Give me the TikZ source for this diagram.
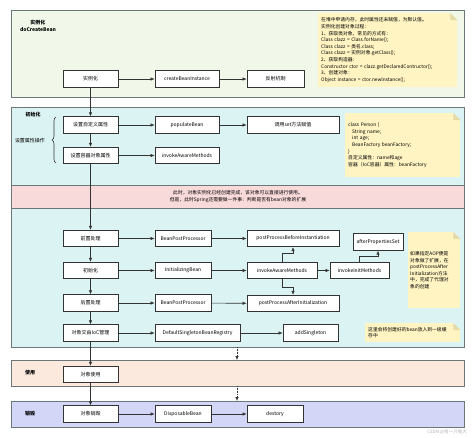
\documentclass[tikz,border=0pt]{standalone}
\usepackage{fontspec}
\setmainfont{Noto Sans CJK SC}
\usetikzlibrary{arrows.meta,decorations.pathreplacing}

\definecolor{instbg}{HTML}{F1F8E9}
\definecolor{initbg}{HTML}{DCF3F3}
\definecolor{bandbg}{HTML}{F9DADA}
\definecolor{usebg}{HTML}{FBE9DD}
\definecolor{desbg}{HTML}{D3D6F6}
\definecolor{notebg}{HTML}{FFF4C2}
\definecolor{foldc}{HTML}{E6DBA6}
\definecolor{secline}{HTML}{6B7778}
\definecolor{boxline}{HTML}{333333}

\tikzset{
  sect/.style={draw=secline, line width=1pt, minimum width=453pt, outer sep=0pt},
  title/.style={font=\fontsize{5}{6.5}\selectfont\bfseries, align=center},
  stepbox/.style={draw=boxline, line width=0.7pt, fill=white, minimum height=16.5pt,
    inner sep=1pt, font=\fontsize{5}{6}\selectfont},
  memo/.style={fill=notebg, align=left, inner sep=3pt, anchor=north west,
    font=\fontsize{4.8}{6.6}\selectfont},
  flow/.style={draw=boxline, line width=0.6pt, -{Latex[length=4pt,width=3.4pt]}}
}
% folded corner of a note: #1 node, #2 colour behind it
\newcommand\dogear[2]{
  \fill[#2] (#1.north east) -- ++(-7,0) -- ++(7,7) -- cycle;
  \fill[foldc] (#1.north east) ++(-7,0) -- ++(0,7) -- ++(7,0) -- cycle;
}

\begin{document}
\begin{tikzpicture}[x=1pt,y=-1pt]
  \useasboundingbox (0,0) rectangle (474,437);

  % stages
  \node[sect, fill=instbg, minimum height=87pt]  (sInst) at (237.5,53.5) {};
  \node[sect, fill=initbg, minimum height=78pt]  (sInit) at (237.5,146) {};
  \node[sect, fill=bandbg, minimum height=23pt]  (sBand) at (237.5,196.5) {};
  \node[sect, fill=initbg, minimum height=139pt] (sPost) at (237.5,277.5) {};
  \node[sect, fill=usebg, minimum height=26pt]   (sUse)  at (237.5,373) {};
  \node[sect, fill=desbg, minimum height=26pt]   (sDes)  at (237.5,414) {};

  \node[title] (tInst) at (38,26) {实例化\\doCreateBean};
  \node[title] (tInit) at (33,115) {初始化};
  \node[title] (tUse)  at (30,373) {使用};
  \node[title] (tDes)  at (30,414) {销毁};
  \node[font=\fontsize{4.8}{6.6}\selectfont, align=center] (bandtxt) at (238,196.5)
    {此时，对象实例化已经创建完成，该对象可以直接进行使用。\\
     但是，此时Spring还需要做一件事：判断是否有bean对象的扩展};

  % instantiation
  \node[stepbox, minimum width=55pt] (inst)   at (90.5,79) {实例化};
  \node[stepbox, minimum width=64pt] (cbi)    at (187,79) {createBeanInstance};
  \node[stepbox, minimum width=57pt] (refl)   at (275.5,79) {反射机制};

  % properties
  \node[stepbox, minimum width=55pt] (setA)   at (90.5,125) {设置自定义属性};
  \node[stepbox, minimum width=64pt] (popB)   at (187,125) {populateBean};
  \node[stepbox, minimum width=92pt] (setter) at (293,125) {调用set方法赋值};
  \node[stepbox, minimum width=55pt] (setB)   at (90.5,155.5) {设置容器对象属性};
  \node[stepbox, minimum width=64pt] (iamA)   at (187,155.5) {invokeAwareMethods};
  \coordinate (brA) at (56,163);
  \coordinate (brB) at (56,117);
  \draw[boxline, line width=0.6pt, decorate, decoration={brace, amplitude=4pt}] (brA) -- (brB);
  \node[font=\fontsize{5}{6}\selectfont] (brtxt) at (30,140.5) {设置属性操作};

  % extension
  \node[stepbox, minimum width=55pt] (pre)  at (90.5,238.5) {前置处理};
  \node[stepbox, minimum width=56pt] (bppA) at (183,238.5) {BeanPostProcessor};
  \node[stepbox, minimum width=92pt] (ppbi) at (293,238.5) {postProcessBeforeInstantiation};
  \node[stepbox, minimum width=55pt] (init) at (90.5,270.5) {初始化};
  \node[stepbox, minimum width=56pt] (ib)   at (183,270.5) {InitializingBean};
  \node[stepbox, minimum width=70pt] (iamB) at (282,270.5) {invokeAwareMethods};
  \node[stepbox, minimum width=59pt] (iim)  at (359.5,270.5) {invokeInitMethods};
  \node[stepbox, minimum width=50pt] (aps)  at (378,242) {afterPropertiesSet};
  \node[stepbox, minimum width=55pt] (post) at (90.5,303) {后置处理};
  \node[stepbox, minimum width=56pt] (bppB) at (183,303) {BeanPostProcessor};
  \node[stepbox, minimum width=92pt] (ppai) at (293,303.5) {postProcessAfterInitialization};
  \node[stepbox, minimum width=55pt] (ioc)  at (90.5,333) {对象交由IoC管理};
  \node[stepbox, minimum width=85pt] (dsbr) at (197.5,333) {DefaultSingletonBeanRegistry};
  \node[stepbox, minimum width=55pt] (addS) at (310.5,333) {addSingleton};

  % use and destroy
  \node[stepbox, minimum width=55pt] (use)   at (90.5,374.5) {对象使用};
  \node[stepbox, minimum width=55pt] (des)   at (90.5,414) {对象销毁};
  \node[stepbox, minimum width=56pt] (disp)  at (183,414) {DisposableBean};
  \node[stepbox, minimum width=56pt] (destr) at (275,414) {destory};

  % notes
  \node[memo, minimum width=139pt, minimum height=74pt, text width=133pt] (noteA) at (318,13)
    {在堆中申请内存，此时属性还未赋值，为默认值。\\
     实例化创建对象过程：\\
     1、获取类对象，常见的方式有：\\
     Class clazz = Class.forName();\\
     Class clazz = 类名.class;\\
     Class clazz = 实例对象.getClass();\\
     2、获取构造器：\\
     Constructor ctor = clazz.getDeclaredContructor();\\
     3、创建对象：\\
     Object instance = ctor.newInstance();};
  \node[memo, minimum width=115pt, minimum height=64pt, text width=109pt] (noteB) at (345,113)
    {class Person \{\\
     \hspace*{4pt}String name;\\
     \hspace*{4pt}int age;\\
     \hspace*{4pt}BeanFactory beanFactory;\\
     \}\\
     自定义属性：name和age\\
     容器（IoC容器）属性：beanFactory};
  \node[memo, minimum width=52pt, minimum height=76pt, text width=48pt, inner sep=2pt] (noteC) at (408,232)
    {如果指定AOP便是\\
     对象做了扩展，在\\
     postProcessAfter\\
     Initialization方法\\
     中，完成了代理对\\
     象的创建\\[12pt]};
  \node[memo, minimum width=95pt, minimum height=19pt, text width=89pt] (noteD) at (365,323)
    {这里会将创建好的bean放入到一级缓\\存中};
  \dogear{noteA}{instbg}
  \dogear{noteB}{initbg}
  \dogear{noteC}{initbg}
  \dogear{noteD}{initbg}

  % connectors
  \foreach \a/\b in {inst/setA, setA/setB, setB/pre, pre/init, init/post, post/ioc, ioc/use, use/des}
    \draw[flow] (\a) -- (\b);
  \foreach \a/\b in {inst/cbi, cbi/refl, setA/popB, popB/setter, setB/iamA, pre/bppA, bppA/ppbi,
                     init/ib, ib/iamB, iamB/iim, post/bppB, bppB/ppai, ioc/dsbr, dsbr/addS,
                     des/disp, disp/destr}
    \draw[flow] (\a) -- (\b);
  \draw[flow] (iamB.north) -- ++(0,-9) -| (ppbi.south);
  \draw[flow] (iamB.south) -- ++(0,8) -| (ppai.north);
  \draw[flow] (iim.north) -- ++(0,-6) -| (aps.south);

  \coordinate (dotx) at (237,0);
  \draw[flow, densely dotted] (sPost.south -| dotx) -- (sUse.north -| dotx);
  \draw[flow, densely dotted] (sUse.south -| dotx) -- (sDes.north -| dotx);

  \node[font=\fontsize{4.5}{5}\selectfont, text=gray!60] (mark) at (447,432) {CSDN @有一只兔大};
\end{tikzpicture}
\end{document}
